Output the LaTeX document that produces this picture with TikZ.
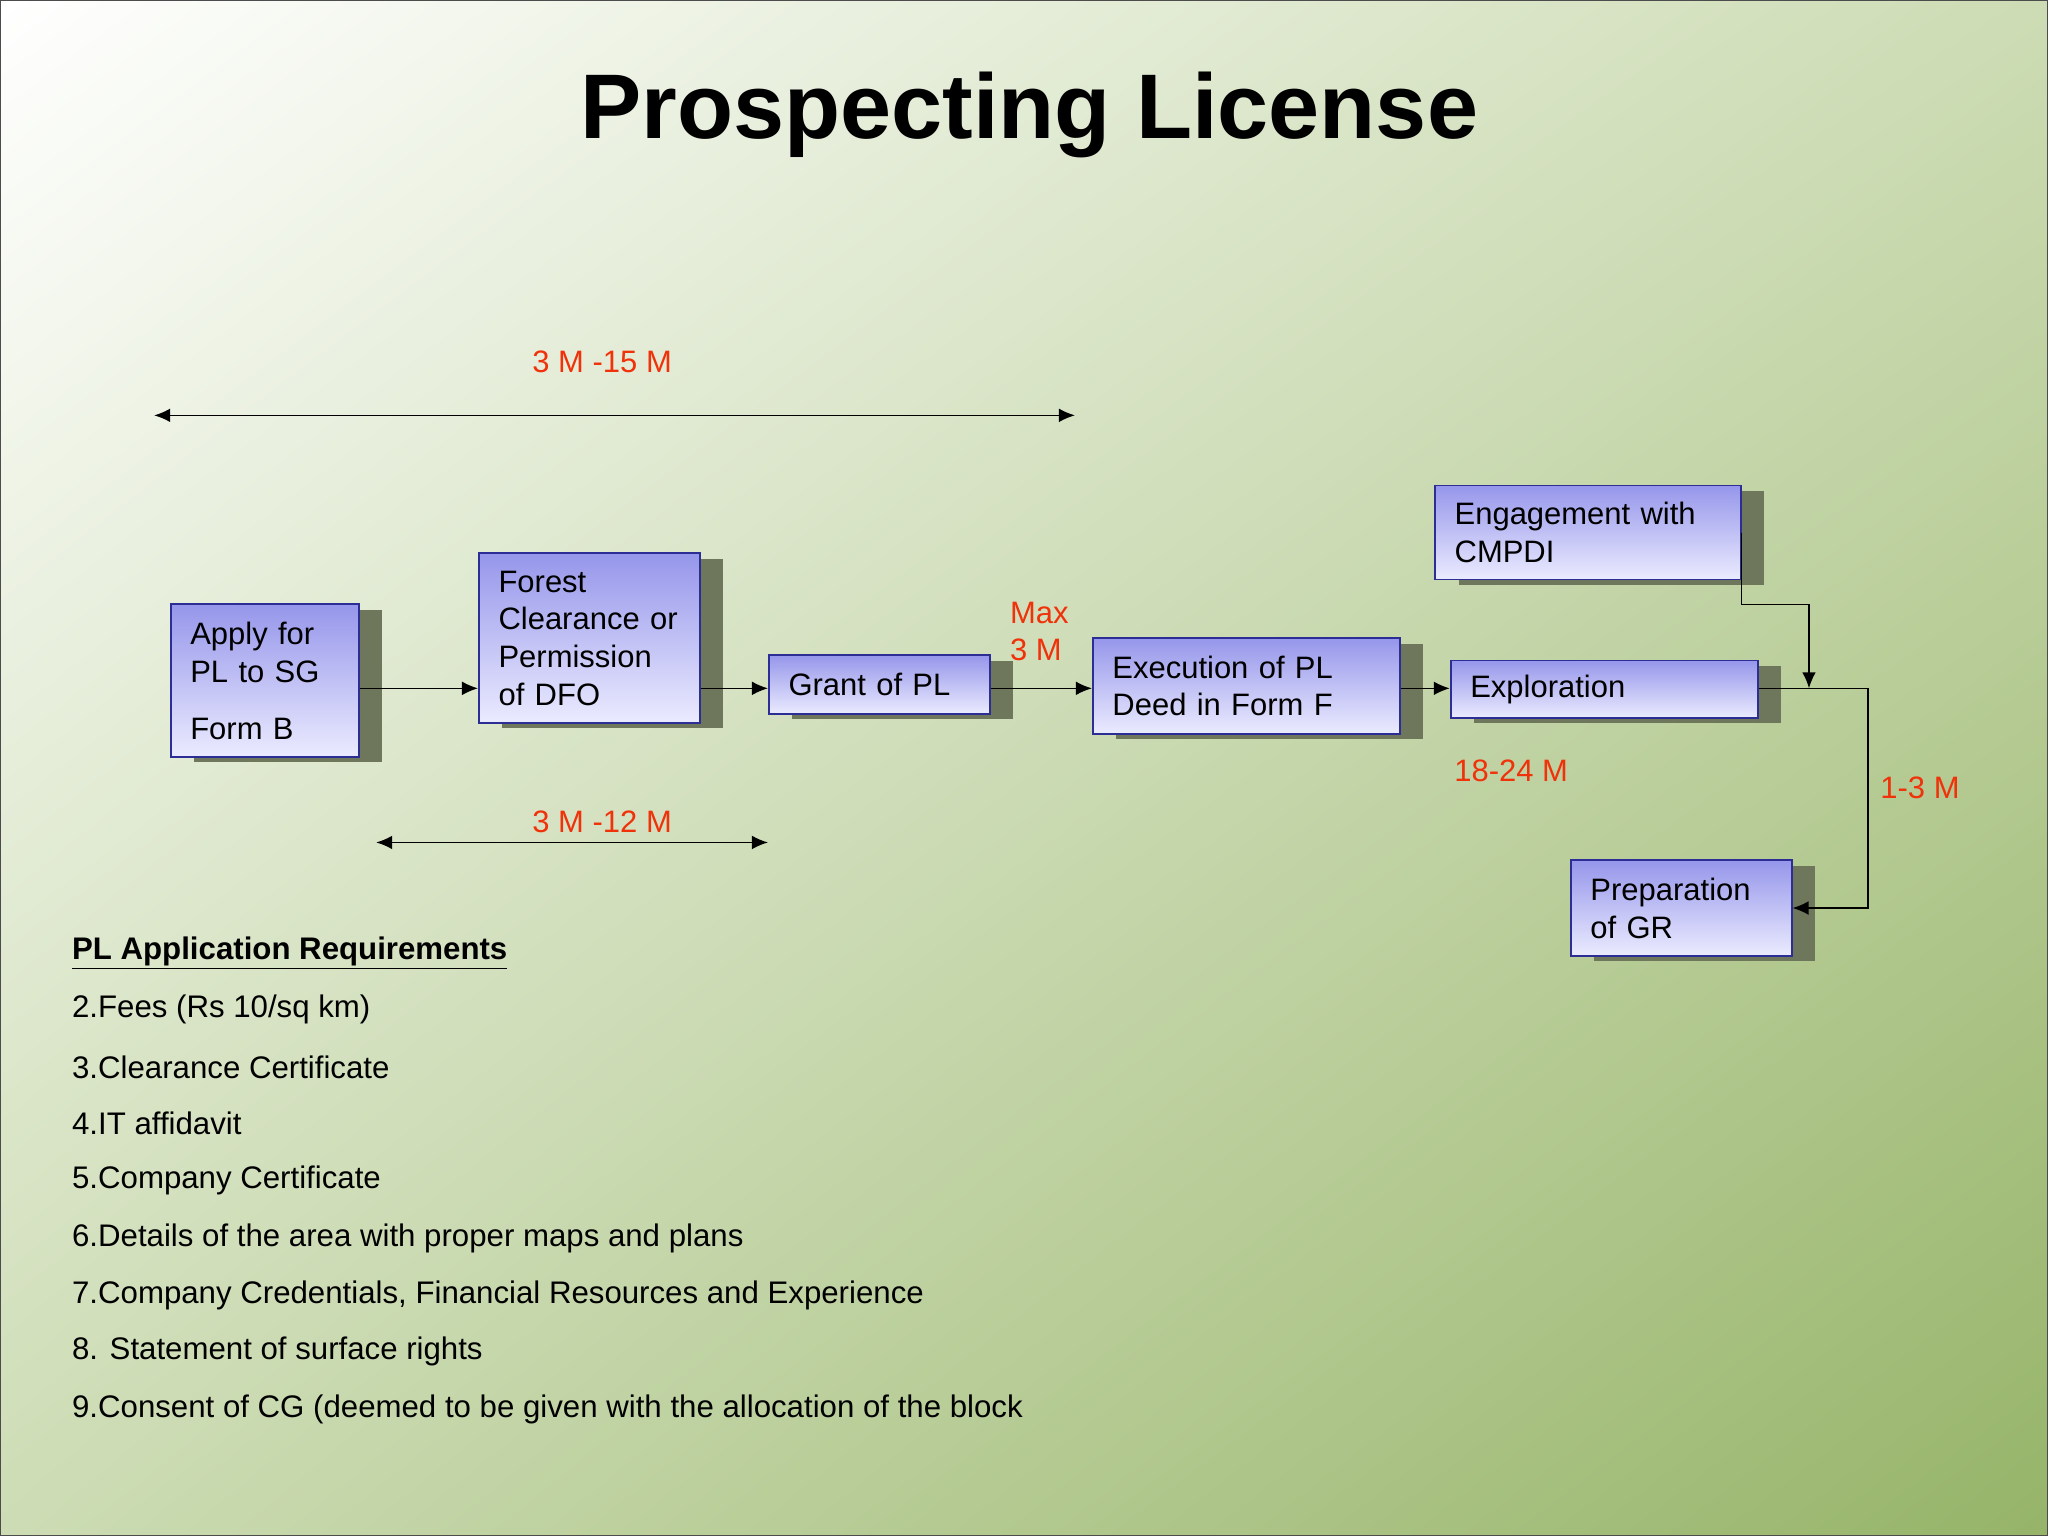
\documentclass[tikz,border=0pt]{standalone}
\usepackage{fontspec}
\setmainfont{Liberation Sans}
\usetikzlibrary{arrows.meta,shadows,shadings}
\definecolor{bgGreen}{RGB}{150,180,105}
\definecolor{bgMid}{RGB}{205,220,180}
\definecolor{boxTop}{RGB}{150,150,235}
\definecolor{boxBot}{RGB}{235,235,255}
\definecolor{boxLine}{RGB}{45,45,150}
\definecolor{shadowCol}{RGB}{110,118,92}
\definecolor{timeRed}{RGB}{240,50,10}
\tikzset{
  box/.style={draw=boxLine, line width=0.8pt, top color=boxTop, bottom color=boxBot,
    anchor=north west, align=left, inner xsep=0.3cm, inner ysep=0pt,
    font=\fontsize{13.5}{16.5}\selectfont,
    drop shadow={shadow xshift=0.36cm, shadow yshift=-0.08cm, fill=shadowCol, opacity=1}},
  flow/.style={-{Latex[length=7pt,width=6pt]}, line width=0.7pt},
  span/.style={{Latex[length=7pt,width=6pt]}-{Latex[length=7pt,width=6pt]}, line width=0.7pt},
  timelbl/.style={text=timeRed, font=\fontsize{13.5}{16.5}\selectfont, align=left},
  req/.style={anchor=west, font=\fontsize{13.6}{16}\selectfont},
}
\begin{document}
\begin{tikzpicture}[x=0.02cm,y=-0.02cm]
\useasboundingbox (0,0) rectangle (1568,1176);
%%% background
\shade[upper left=white, upper right=bgMid, lower left=bgMid, lower right=bgGreen] (0,0) rectangle (1568,1176);
\draw[gray!60!black, line width=0.5pt] (0.5,0.5) rectangle (1567.5,1175.5);
\node[font=\fontsize{40}{48}\selectfont\bfseries] (title) at (788,88) {Prospecting License};

%%% boxes
\node[box, text width=2.28cm, minimum height=2.34cm] (apply) at (130,462) {Apply for\\PL to SG\\[0.3cm]Form B};
\node[box, text width=2.78cm, minimum height=2.6cm] (forest) at (366,423) {Forest\\Clearance or\\Permission\\of DFO};
\node[box, text width=2.78cm, minimum height=0.9cm] (grant) at (588,501) {Grant of PL};
\node[box, text width=4.1cm, minimum height=1.46cm] (exec) at (836,488) {Execution of PL\\Deed in Form F};
\node[box, text width=4.1cm, minimum height=0.88cm] (expl) at (1110,505) {Exploration};
\node[box, text width=4.08cm, minimum height=1.44cm] (eng) at (1098,371) {Engagement with\\CMPDI};
\node[box, text width=2.78cm, minimum height=1.46cm] (prep) at (1202,658) {Preparation\\of GR};

%%% connectors
\coordinate (join) at (1385,527);
\coordinate (turn) at (1430,527);
\draw[flow] (apply.east |- join) -- (forest.west |- join);
\draw[flow] (forest.east |- join) -- (grant.west |- join);
\draw[flow] (grant.east |- join) -- (exec.west |- join);
\draw[flow] (exec.east |- join) -- (expl.west |- join);
\draw[flow] (eng.east) -- ++(0,55) -| (join);
\draw[flow] (expl.east |- join) -- (turn) |- (prep.east);

%%% time spans
\coordinate (spanA) at (118,318);
\coordinate (spanB) at (823,318);
\coordinate (spanC) at (288,645);
\coordinate (spanD) at (588,645);
\draw[span] (spanA) -- (spanB);
\draw[span] (spanC) -- (spanD);
\node[timelbl] (tA) at (461,277) {3 M -15 M};
\node[timelbl] (tB) at (461,629) {3 M -12 M};
\node[timelbl, anchor=north west, inner sep=0pt, font=\fontsize{13.5}{16}\selectfont] (tC) at (773,461) {Max\\3 M};
\node[timelbl] (tD) at (1157,590) {18-24 M};
\node[timelbl] (tE) at (1470,603) {1-3 M};

%%% requirements
\node[req, font=\fontsize{13.6}{16}\selectfont\bfseries] (r1) at (49,730) {\underline{PL Application Requirements}};
\node[req] (r2) at (49,773) {2.Fees (Rs 10/sq km)};
\node[req] (r3) at (49,817) {3.Clearance Certificate};
\node[req] (r4) at (49,860) {4.IT affidavit};
\node[req] (r5) at (49,904) {5.Company Certificate};
\node[req] (r6) at (49,948) {6.Details of the area with proper maps and plans};
\node[req] (r7) at (49,992) {7.Company Credentials, Financial Resources and Experience};
\node[req] (r8) at (49,1035) {8. Statement of surface rights};
\node[req] (r9) at (49,1079) {9.Consent of CG (deemed to be given with the allocation of the block};
\end{tikzpicture}
\end{document}
